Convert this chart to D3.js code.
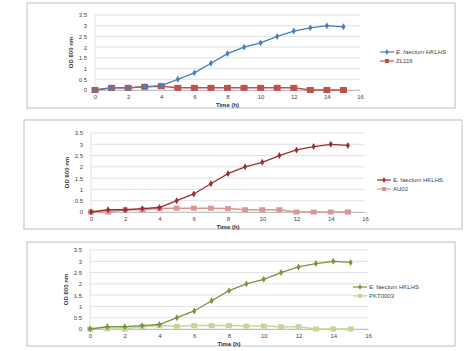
<!DOCTYPE html>
<html>
<head>
<meta charset="utf-8">
<script src="https://cdn.jsdelivr.net/npm/d3@7"></script>
<style>
  body { margin: 0; background: #fff; }
  svg { display: block; font-family: "Liberation Sans", Arial, sans-serif; }
  .tick text { fill: #444; font-size: 6px; }
</style>
</head>
<body>
<div id="chart"></div>
<script>
const width = 474, height = 351;

// shared data
const hours = [0, 1, 2, 3, 4, 5, 6, 7, 8, 9, 10, 11, 12, 13, 14, 15];
const hklhs = [0, 0.1, 0.1, 0.15, 0.2, 0.5, 0.8, 1.25, 1.7, 2.0, 2.2, 2.5, 2.75, 2.9, 3.0, 2.95];
const zl116 = [0, 0.1, 0.1, 0.15, 0.18, 0.1, 0.1, 0.1, 0.1, 0.1, 0.1, 0.1, 0.1, 0, 0, 0];
const au02 = [0, 0, 0.1, 0.1, 0.15, 0.17, 0.17, 0.17, 0.15, 0.1, 0.1, 0.1, 0, 0, 0, 0];
const pkt0003 = [0, 0, 0, 0.1, 0.15, 0.12, 0.15, 0.15, 0.15, 0.13, 0.13, 0.1, 0.1, 0, 0, 0];
const xTicks = [0, 2, 4, 6, 8, 10, 12, 14, 16];
const yTicks = [0, 0.5, 1, 1.5, 2, 2.5, 3, 3.5];
const seriesNames = ["E. faecium HKLHS", "ZL116", "AU02", "PKT0003"];

const panels = [
  { frame: [27, 3, 455, 108], plot: [95, 15, 360, 90], main: hklhs, other: zl116, otherName: seriesNames[1],
    c1: "#4a7ebb", c2: "#c0504d", italic: true, legend: [380, 52], sq: 7 },
  { frame: [24, 120, 462, 229], plot: [91, 133, 365, 212], main: hklhs, other: au02, otherName: seriesNames[2],
    c1: "#9b2d30", c2: "#d99694", italic: false, legend: [377, 180], sq: 6 },
  { frame: [27, 242, 455, 346], plot: [90, 250, 368, 329], main: hklhs, other: pkt0003, otherName: seriesNames[3],
    c1: "#77933c", c2: "#c3d69b", italic: false, legend: [353, 287], sq: 6 }
];

const svg = d3.select("#chart").append("svg")
  .attr("width", width).attr("height", height);

panels.forEach(p => {
  const [fx0, fy0, fx1, fy1] = p.frame;
  const [px0, py0, px1, py1] = p.plot;

  svg.append("rect")
    .attr("x", fx0).attr("y", fy0)
    .attr("width", fx1 - fx0).attr("height", fy1 - fy0)
    .attr("fill", "#fff").attr("stroke", "#bdbdbd").attr("stroke-width", 1);

  const x = d3.scaleLinear().domain([0, 16]).range([px0, px1]);
  const y = d3.scaleLinear().domain([0, 3.5]).range([py1, py0]);

  // gridlines
  svg.append("g").selectAll("line").data(yTicks).join("line")
    .attr("x1", px0).attr("x2", px1)
    .attr("y1", d => y(d)).attr("y2", d => y(d))
    .attr("stroke", "#d9d9d9").attr("stroke-width", 0.8);

  svg.append("line")
    .attr("x1", px0).attr("x2", px0).attr("y1", py0).attr("y2", py1)
    .attr("stroke", "#d9d9d9").attr("stroke-width", 0.8);

  const xAxis = svg.append("g")
    .attr("transform", `translate(0,${py1})`)
    .call(d3.axisBottom(x).tickValues(xTicks).tickSize(0).tickPadding(5));
  xAxis.select(".domain").attr("stroke", "#bfbfbf");

  const yAxis = svg.append("g")
    .attr("transform", `translate(${px0},0)`)
    .call(d3.axisLeft(y).tickValues(yTicks).tickFormat(d3.format("~g")).tickSize(0).tickPadding(8));
  yAxis.select(".domain").remove();

  svg.append("text")
    .attr("x", (px0 + px1) / 2).attr("y", py1 + 17)
    .attr("text-anchor", "middle")
    .attr("font-size", 6).attr("font-weight", "bold").attr("fill", "#333")
    .text("Time (h)");

  svg.append("text")
    .attr("transform", `translate(${px0 - 22},${(py0 + py1) / 2}) rotate(-90)`)
    .attr("text-anchor", "middle")
    .attr("font-size", 6).attr("font-weight", "bold").attr("fill", "#333")
    .text("OD 600 nm");

  const line = d3.line().x((d, i) => x(hours[i])).y(d => y(d));

  // other strain (squares)
  svg.append("path").datum(p.other)
    .attr("d", line).attr("fill", "none")
    .attr("stroke", p.c2).attr("stroke-width", 1.5);
  svg.append("g").selectAll("rect").data(p.other).join("rect")
    .attr("x", (d, i) => x(hours[i]) - p.sq / 2).attr("y", d => y(d) - p.sq / 2 + 0.5)
    .attr("width", p.sq).attr("height", p.sq - 1)
    .attr("fill", p.c2);

  // HKLHS (diamonds)
  svg.append("path").datum(p.main)
    .attr("d", line).attr("fill", "none")
    .attr("stroke", p.c1).attr("stroke-width", 1.3);
  svg.append("g").selectAll("path").data(p.main).join("path")
    .attr("d", d3.symbol(d3.symbolDiamond, 14))
    .attr("transform", (d, i) => `translate(${x(hours[i])},${y(d)})`)
    .attr("fill", p.c1);

  // legend
  const [lx, ly] = p.legend;
  const items = [
    { name: seriesNames[0], color: p.c1, sym: "d", it: p.italic },
    { name: p.otherName, color: p.c2, sym: "s", it: false }
  ];
  items.forEach((it, k) => {
    const yy = ly + k * 9;
    svg.append("line").attr("x1", lx).attr("x2", lx + 14).attr("y1", yy).attr("y2", yy)
      .attr("stroke", it.color).attr("stroke-width", 1.2);
    if (it.sym === "d") {
      svg.append("path").attr("d", d3.symbol(d3.symbolDiamond, 10))
        .attr("transform", `translate(${lx + 7},${yy})`).attr("fill", it.color);
    } else {
      svg.append("rect").attr("x", lx + 5).attr("y", yy - 2).attr("width", 4).attr("height", 4)
        .attr("fill", it.color);
    }
    svg.append("text").attr("x", lx + 16).attr("y", yy + 2)
      .attr("font-size", 6).attr("fill", "#444")
      .attr("font-style", it.it ? "italic" : "normal")
      .text(it.name);
  });
});
</script>
</body>
</html>
